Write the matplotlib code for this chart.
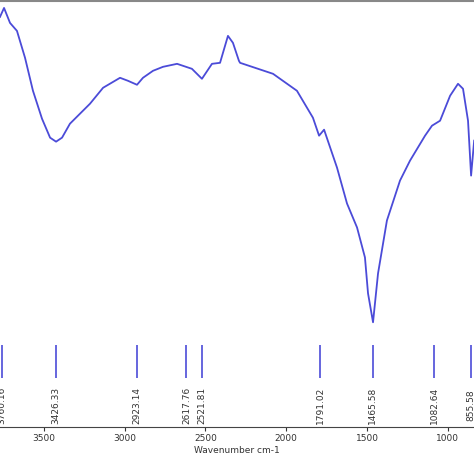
import matplotlib
matplotlib.use("Agg")
import matplotlib.pyplot as plt

# spectrum trace (wavenumber cm-1, transmittance in arbitrary units)
wn = [3772, 3747, 3710, 3667, 3617, 3568, 3512, 3462, 3425, 3388, 3339, 3277, 3215, 3134,
      3029, 2980, 2924, 2887, 2825, 2763, 2676, 2584, 2522, 2460, 2410, 2361, 2330, 2293,
      2286, 2082, 1934, 1835, 1797, 1766, 1686, 1624, 1562, 1513, 1494, 1463, 1432, 1377,
      1296, 1234, 1141, 1098, 1048, 986, 937, 906, 875, 856, 837]
trans = [411, 420, 405, 397, 370, 337, 309, 290, 286, 290, 304, 314, 324, 340,
         350, 347, 343, 350, 357, 361, 364, 359, 349, 364, 365, 392, 385, 367,
         365, 354, 337, 310, 292, 298, 260, 224, 200, 170, 134, 105, 154, 207,
         247, 267, 292, 302, 307, 332, 344, 339, 307, 252, 287]

peaks = [3760.16, 3426.33, 2923.14, 2617.76, 2521.81, 1791.02, 1465.58, 1082.64, 855.58]
peak_labels = ["3760.16", "3426.33", "2923.14", "2617.76", "2521.81", "1791.02", "1465.58", "1082.64", "855.58"]

blue = "#4b4bd8"
fig = plt.figure(figsize=(4.74, 4.74), dpi=100)
ax = fig.add_axes([0, 0.099, 1, 0.899])
ax.plot(wn, trans, color=blue, lw=1.3)
ax.vlines(peaks, 49, 82, color=blue, lw=1.2)
for p, lab in zip(peaks, peak_labels):
    ax.text(p, 22, lab, rotation=90, ha="center", va="center", fontsize=6.5, color="#333333")

ax.set_xlim(3772, 838)
ax.set_ylim(0, 427)
ax.set_xticks([3500, 3000, 2500, 2000, 1500, 1000])
ax.tick_params(axis="x", direction="out", length=3, labelsize=6.5, colors="#333333", pad=2)
ax.set_yticks([])
for s in ["left", "right"]:
    ax.spines[s].set_visible(False)
ax.spines["bottom"].set_color("#444444")
ax.spines["top"].set_color("#888888")
ax.spines["top"].set_linewidth(1.5)
ax.set_xlabel("Wavenumber cm-1", fontsize=6.5, color="#333333", labelpad=2)
fig.savefig("out.png", dpi=100)
